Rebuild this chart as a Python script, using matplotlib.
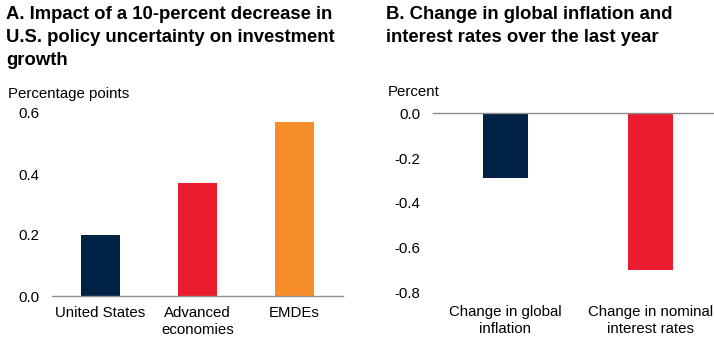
import matplotlib
matplotlib.use("Agg")
import matplotlib.pyplot as plt

# data
a_labels = ["United States", "Advanced\neconomies", "EMDEs"]
a_values = [0.20, 0.37, 0.57]
a_colors = ["#002345", "#EB1C2D", "#F78D28"]

b_labels = ["Change in global\ninflation", "Change in nominal\ninterest rates"]
b_values = [-0.29, -0.70]
b_colors = ["#002345", "#EB1C2D"]

plt.rcParams['font.family'] = ['Liberation Sans', 'DejaVu Sans']
title_fs = 13.3
body_fs = 10.8
W, H = 714, 339

fig = plt.figure(figsize=(W / 100, H / 100), dpi=100)

def box(x0, x1, ytop, ybot):
    return [x0 / W, 1 - ybot / H, (x1 - x0) / W, (ybot - ytop) / H]

def style(ax):
    for s in ['top', 'right', 'left']:
        ax.spines[s].set_visible(False)
    ax.spines['bottom'].set_color('#8c8c8c')
    ax.spines['bottom'].set_linewidth(1.0)
    ax.tick_params(axis='both', length=0, labelsize=body_fs, colors='#000000')
    ax.tick_params(axis='y', pad=9)
    ax.tick_params(axis='x', pad=7)

# panel A
ax1 = fig.add_axes(box(52, 343, 113, 296))
ax1.bar(range(len(a_values)), a_values, width=0.4, color=a_colors)
ax1.set_xlim(-0.5, 2.5)
ax1.set_ylim(0, 0.6)
ax1.set_yticks([0.0, 0.2, 0.4, 0.6])
ax1.set_yticklabels(["0.0", "0.2", "0.4", "0.6"])
ax1.set_xticks(range(len(a_labels)))
ax1.set_xticklabels(a_labels, linespacing=1.3)
style(ax1)

# panel B
ax2 = fig.add_axes(box(432.7, 714, 113.3, 292.3))
ax2.bar(range(len(b_values)), b_values, width=0.31, color=b_colors)
ax2.set_xlim(-0.5, (714 - 432.7) / 145 - 0.5)
ax2.set_ylim(-0.8, 0)
ax2.set_yticks([0.0, -0.2, -0.4, -0.6, -0.8])
ax2.set_yticklabels(["0.0", "-0.2", "-0.4", "-0.6", "-0.8"])
ax2.set_xticks(range(len(b_labels)))
ax2.set_xticklabels(b_labels, linespacing=1.3)
style(ax2)
ax2.spines['bottom'].set_visible(False)
ax2.axhline(0, color='#8c8c8c', lw=1.0, clip_on=False)
ax2.tick_params(axis='x', pad=9)

# titles and units
fig.text(6 / W, 1 - 6 / H,
         "A. Impact of a 10-percent decrease in\nU.S. policy uncertainty on investment\ngrowth",
         fontsize=title_fs, fontweight='bold', va='top', ha='left', linespacing=1.45)
fig.text(386 / W, 1 - 6 / H,
         "B. Change in global inflation and\ninterest rates over the last year",
         fontsize=title_fs, fontweight='bold', va='top', ha='left', linespacing=1.45)
fig.text(8 / W, 1 - 94 / H, "Percentage points", fontsize=body_fs, va='center', ha='left')
fig.text(388 / W, 1 - 92 / H, "Percent", fontsize=body_fs, va='center', ha='left')

fig.savefig("out.png", dpi=100)
